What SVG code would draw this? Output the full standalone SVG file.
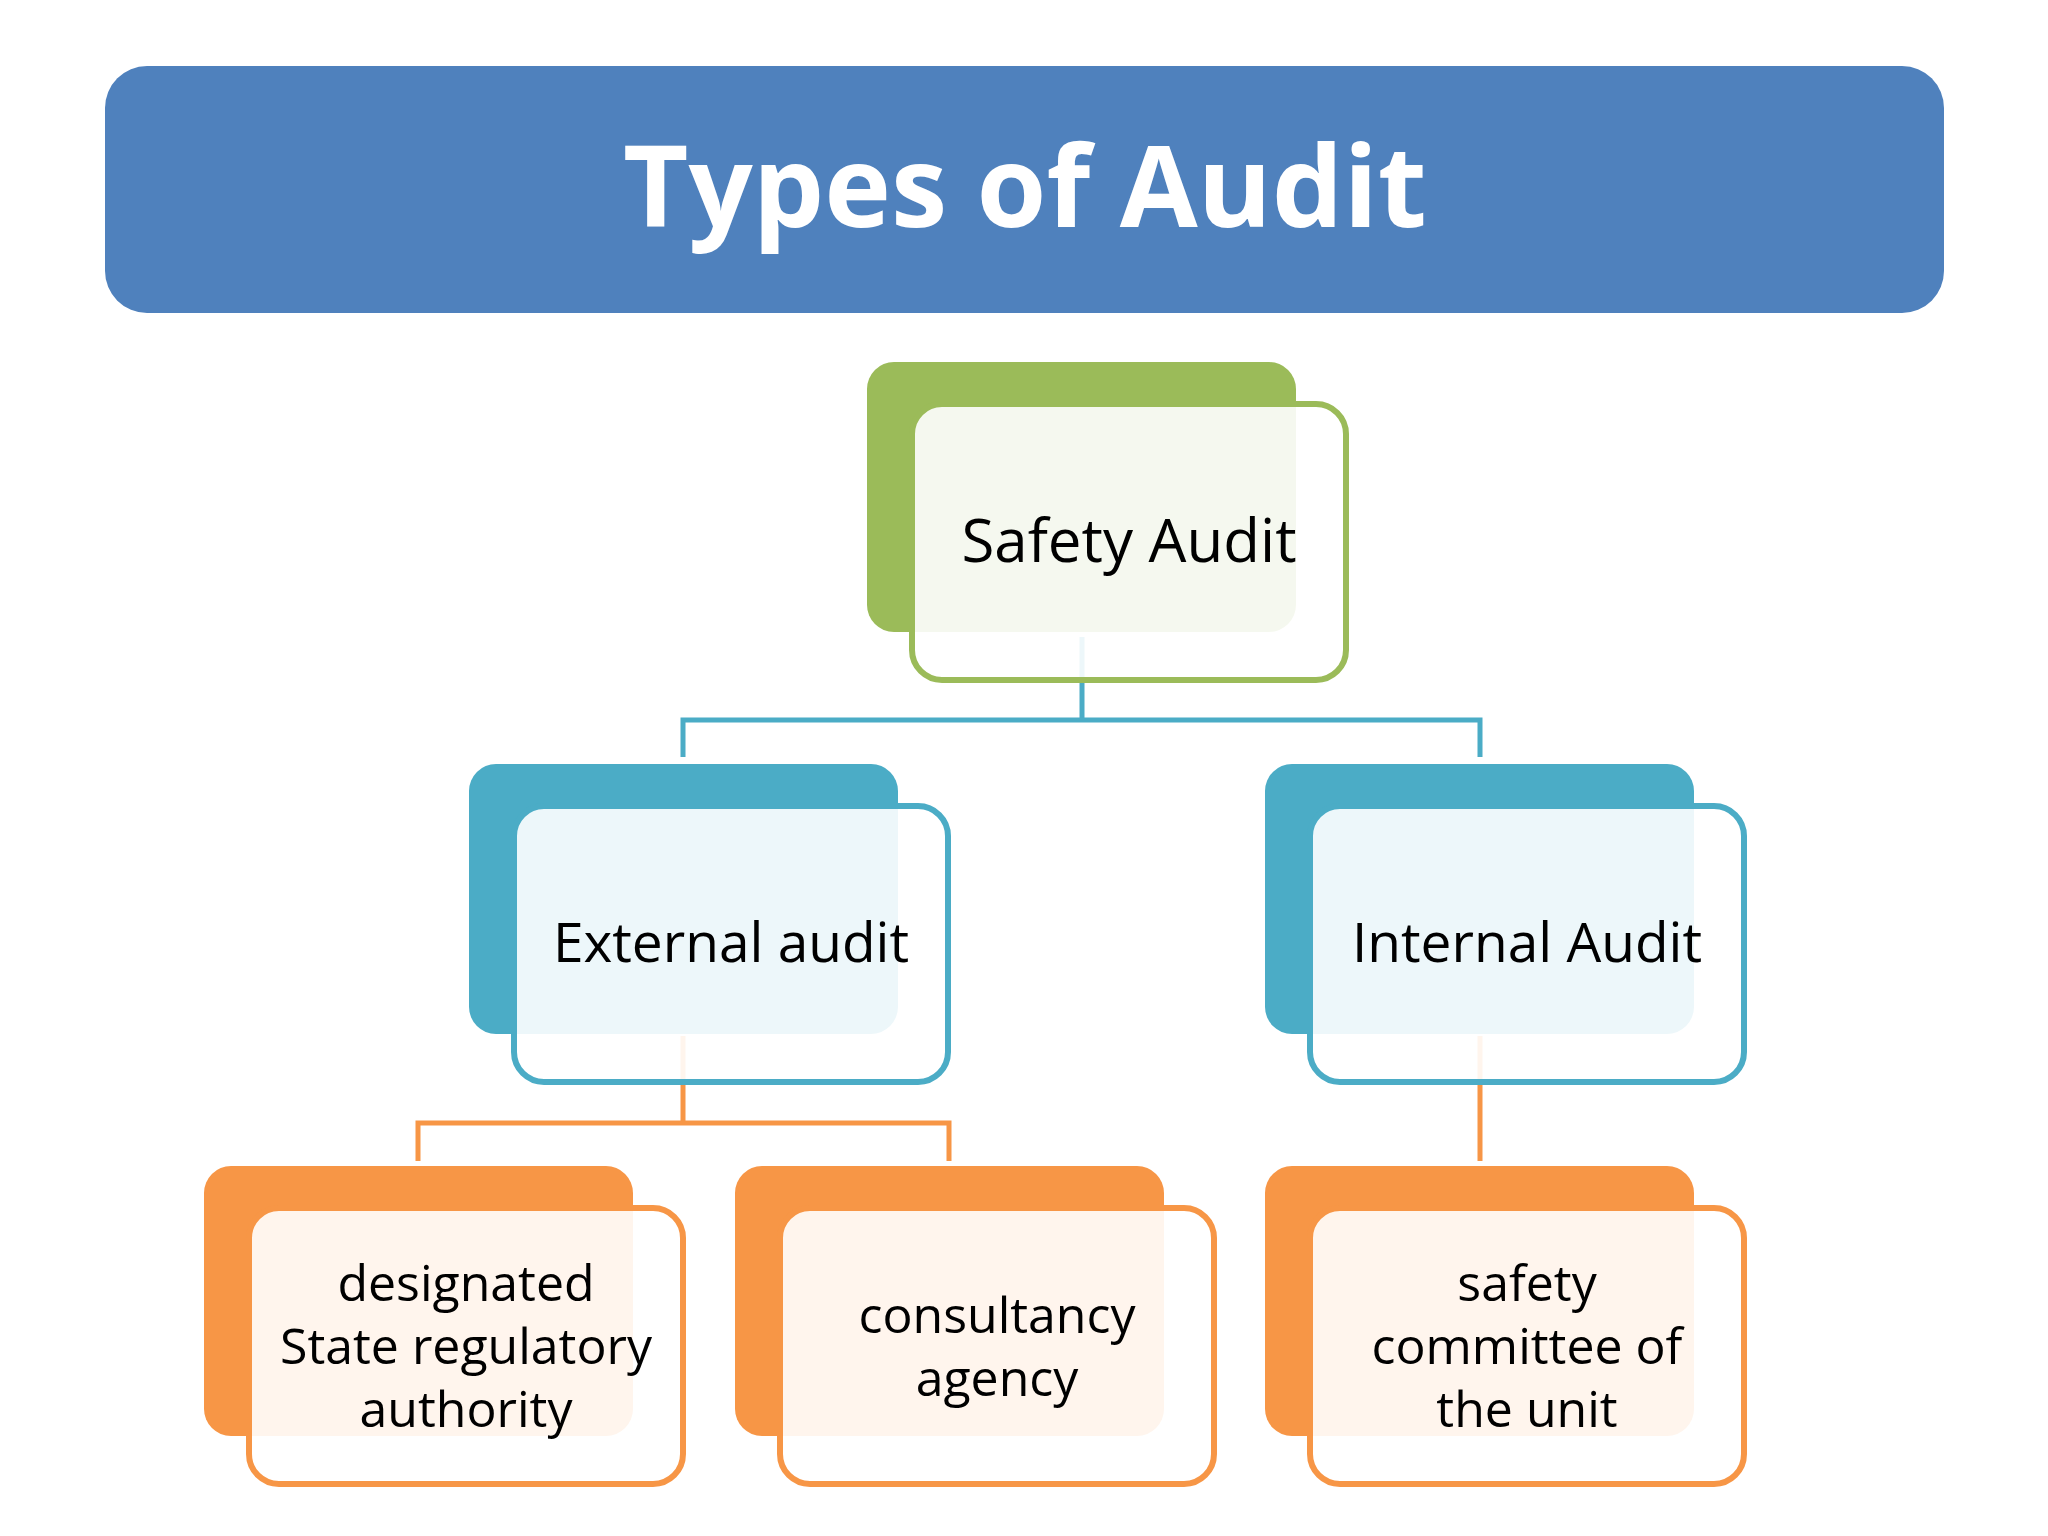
<svg xmlns="http://www.w3.org/2000/svg" width="2048" height="1536" viewBox="0 0 2048 1536">
<defs>
<style>
.title{font-family:"Open Sans","Liberation Sans",sans-serif;font-weight:bold;fill:#fff;text-anchor:middle}
.lbl{font-family:"Open Sans","Liberation Sans",sans-serif;fill:#000;text-anchor:middle}
.front{fill:#fff;fill-opacity:0.9;stroke-width:6}
.g .back{fill:#9BBB59}.g .front{stroke:#9BBB59}
.b .back{fill:#4BACC6}.b .front{stroke:#4BACC6}
.o .back{fill:#F79646}.o .front{stroke:#F79646}
.conn{fill:none;stroke-width:5}
</style>
</defs>
<rect width="2048" height="1536" fill="#fff"/>
<g id="title">
<rect x="105" y="66" width="1839" height="247" rx="42" fill="#4F81BD"/>
<text class="title" x="1025" y="227" font-size="113">Types of Audit</text>
</g>
<g id="connectors">
<path class="conn" stroke="#4BACC6" d="M1082,637 V720 M683,757 V720 H1480 V757"/>
<path class="conn" stroke="#F79646" d="M683,1036 V1123 M418,1161 V1123 H949 V1161 M1480,1036 V1161"/>
</g>
<g id="safety-audit" class="g">
<rect class="back" x="867" y="362" width="429" height="270" rx="27"/>
<rect class="front" x="912" y="404" width="434" height="276" rx="30"/>
<text class="lbl" x="1129" y="562" font-size="60">Safety Audit</text>
</g>
<g id="external-audit" class="b">
<rect class="back" x="469" y="764" width="429" height="270" rx="27"/>
<rect class="front" x="514" y="806" width="434" height="276" rx="30"/>
<text class="lbl" x="731" y="962" font-size="55">External audit</text>
</g>
<g id="internal-audit" class="b">
<rect class="back" x="1265" y="764" width="429" height="270" rx="27"/>
<rect class="front" x="1310" y="806" width="434" height="276" rx="30"/>
<text class="lbl" x="1527" y="962" font-size="55">Internal Audit</text>
</g>
<g id="state-authority" class="o">
<rect class="back" x="204" y="1166" width="429" height="270" rx="27"/>
<rect class="front" x="249" y="1208" width="434" height="276" rx="30"/>
<text class="lbl" x="466" font-size="50"><tspan x="466" y="1301">designated</tspan><tspan x="466" y="1364">State regulatory</tspan><tspan x="466" y="1427">authority</tspan></text>
</g>
<g id="consultancy" class="o">
<rect class="back" x="735" y="1166" width="429" height="270" rx="27"/>
<rect class="front" x="780" y="1208" width="434" height="276" rx="30"/>
<text class="lbl" x="997" font-size="50"><tspan x="997" y="1333">consultancy</tspan><tspan x="997" y="1396">agency</tspan></text>
</g>
<g id="safety-committee" class="o">
<rect class="back" x="1265" y="1166" width="429" height="270" rx="27"/>
<rect class="front" x="1310" y="1208" width="434" height="276" rx="30"/>
<text class="lbl" x="1527" font-size="50"><tspan x="1527" y="1301">safety</tspan><tspan x="1527" y="1364">committee of</tspan><tspan x="1527" y="1427">the unit</tspan></text>
</g>
</svg>
